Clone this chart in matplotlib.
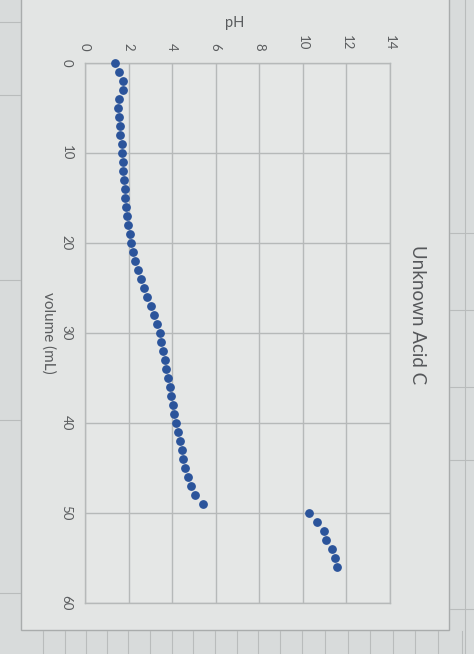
import matplotlib.pyplot as plt
from matplotlib.patches import Rectangle

# titration data (volume in mL, pH)
volume_main = [0, 1, 2, 3, 4, 5, 6, 7, 8, 9,
               10, 11, 12, 13, 14, 15, 16, 17, 18, 19,
               20, 21, 22, 23, 24, 25, 26, 27, 28, 29,
               30, 31, 32, 33, 34, 35, 36, 37, 38, 39,
               40, 41, 42, 43, 44, 45, 46, 47, 48, 49]
ph_main = [1.36, 1.55, 1.73, 1.73, 1.57, 1.52, 1.55, 1.60, 1.62, 1.68,
           1.70, 1.73, 1.76, 1.79, 1.82, 1.84, 1.88, 1.91, 1.98, 2.08,
           2.13, 2.21, 2.31, 2.43, 2.55, 2.70, 2.85, 3.01, 3.16, 3.29,
           3.43, 3.51, 3.58, 3.66, 3.71, 3.82, 3.89, 3.94, 4.05, 4.09,
           4.17, 4.25, 4.35, 4.43, 4.51, 4.58, 4.74, 4.86, 5.05, 5.43]
volume_end = [50, 51, 52, 53, 54, 55, 56]
ph_end = [10.30, 10.67, 10.98, 11.06, 11.36, 11.47, 11.58]

ph_ticks = [0, 2, 4, 6, 8, 10, 12, 14]
volume_ticks = [0, 10, 20, 30, 40, 50, 60]

plt.rcParams['font.family'] = ['Lato', 'DejaVu Sans']

text_col = '#5a5c5e'
grid_col = '#b6b9b9'
dot_col = '#2b549b'

fig = plt.figure(figsize=(4.74, 6.54), dpi=100, facecolor='#d8dbdb')

# spreadsheet behind the chart (pixel coords)
bg = fig.add_axes([0, 0, 1, 1])
bg.set_xlim(0, 474)
bg.set_ylim(654, 0)
bg.axis('off')
bg.add_patch(Rectangle((21, -5), 428, 635, facecolor='#e3e5e4',
                       edgecolor='#a9acac', lw=1))
cell_cols = [43, 65, 86, 107, 128, 150, 172, 193, 215, 237, 258, 280,
             302, 325, 348, 370, 393, 415, 438, 462]
for cx in cell_cols:
    bg.plot([cx, cx], [631, 654], color='#b9bcbc', lw=0.8)
for cy in [22, 95, 280, 420, 593]:
    bg.plot([0, 20], [cy, cy], color='#b9bcbc', lw=0.8)
for cy in [233, 310, 387, 460, 609]:
    bg.plot([450, 474], [cy, cy], color='#b9bcbc', lw=0.8)
bg.plot([465, 465], [0, 654], color='#b9bcbc', lw=0.8)

# the chart itself, turned a quarter clockwise like in the photo
ax = fig.add_axes([85 / 474, 51 / 654, 305 / 474, 540 / 654])
ax.set_facecolor('#e5e7e6')
ax.scatter(ph_main, volume_main, s=28, color=dot_col, zorder=3, clip_on=False)
ax.scatter(ph_end, volume_end, s=28, color=dot_col, zorder=3, clip_on=False)

ax.set_xlim(0, 14)
ax.set_ylim(60, 0)
ax.set_xticks(ph_ticks)
ax.set_yticks(volume_ticks)
ax.xaxis.tick_top()
ax.grid(color=grid_col, lw=1)
ax.set_axisbelow(True)
for s in ax.spines.values():
    s.set_color(grid_col)
    s.set_linewidth(1)

ax.tick_params(axis='x', length=0, pad=9, labelsize=9.5, labelcolor=text_col)
ax.tick_params(axis='y', length=0, pad=9, labelsize=9.5, labelcolor=text_col)
for lbl in ax.get_xticklabels():
    lbl.set_rotation(-90)
    lbl.set_ha('center')
    lbl.set_va('bottom')
for lbl in ax.get_yticklabels():
    lbl.set_rotation(-90)
    lbl.set_ha('right')
    lbl.set_va('center')

fig.text(235 / 474, 1 - 23 / 654, 'pH', ha='center', va='center',
         fontsize=10.5, color=text_col)
fig.text(48 / 474, 1 - 333 / 654, 'volume (mL)', rotation=-90,
         ha='center', va='center', fontsize=11, color=text_col)
fig.text(418 / 474, 1 - 315 / 654, 'Unknown Acid C', rotation=-90,
         ha='center', va='center', fontsize=13.5, color='#55575a')

fig.savefig('out.png', dpi=100, facecolor=fig.get_facecolor())
